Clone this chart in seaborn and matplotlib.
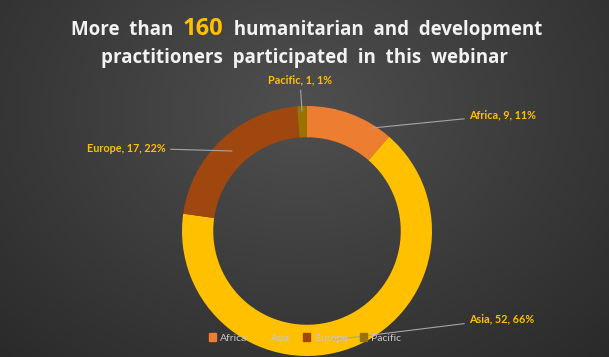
import numpy as np
import matplotlib
matplotlib.use("Agg")
import matplotlib.pyplot as plt
import seaborn as sns

# data
regions = ["Africa", "Asia", "Europe", "Pacific"]
counts = [9, 52, 17, 1]
percents = [11, 66, 22, 1]
colors = sns.color_palette(["#ED7D31", "#FFC000", "#A0470F", "#997300"])

sns.set_theme(style="dark")
plt.rcParams['font.family'] = ['Lato', 'DejaVu Sans']

W, H = 609, 357
fig = plt.figure(figsize=(W / 100, H / 100), dpi=100)
fig.patch.set_facecolor("#333333")

# radial gradient background
bg = fig.add_axes([0, 0, 1, 1], zorder=0)
yy, xx = np.mgrid[0:H, 0:W]
d = np.sqrt(((xx - 300) / 420) ** 2 + ((yy - 110) / 330) ** 2)
shade = np.clip(0.31 - 0.14 * d, 0.14, 0.31)
bg.imshow(np.dstack([shade] * 3), aspect="auto", extent=[0, W, H, 0])
bg.set_axis_off()

# donut, centre (307, 231) px, radius 125 px
cx, cy, R = 307, 231, 125
ax = fig.add_axes([(cx - R) / W, (H - cy - R) / H, 2 * R / W, 2 * R / H], zorder=1)
wedges, _ = ax.pie(counts, colors=colors, startangle=90, counterclock=False,
                   radius=1.0, wedgeprops=dict(width=0.25, linewidth=0))
ax.set_xlim(-1, 1)
ax.set_ylim(-1, 1)
ax.set_aspect("equal")
ax.set_axis_off()

def px(x, y):
    return ((x - cx) / R, (cy - y) / R)

gold = "#FFC000"
label_pos = {
    "Africa": (px(469, 115), px(372, 128), "left"),
    "Asia": (px(469, 319), px(332, 340), "left"),
    "Europe": (px(166, 148), px(232, 151), "right"),
    "Pacific": (px(300, 80), px(302, 111), "center"),
}
for reg, cnt, pct in zip(regions, counts, percents):
    tpos, apos, ha = label_pos[reg]
    ax.annotate(f"{reg}, {cnt}, {pct}%", xy=apos, xytext=tpos,
                ha=ha, va="center", fontsize=7.8, color=gold, fontweight="bold",
                annotation_clip=False,
                arrowprops=dict(arrowstyle="-", color="#A6A6A6", lw=0.8,
                                shrinkA=1, shrinkB=0))

# legend, drawn on top of the ring
handles = [plt.Rectangle((0, 0), 1, 1, color=c) for c in colors]
leg = ax.legend(handles, regions, loc="center", bbox_to_anchor=(305 / W, 1 - 338 / H),
                bbox_transform=fig.transFigure,
                ncol=4, frameon=False, fontsize=7.5, labelcolor="#C8C8C8",
                handlelength=0.7, handleheight=0.7, handletextpad=0.4, columnspacing=1.2)
leg.set_zorder(5)

# title with larger gold "160"
title_kw = dict(color="#F2F2F2", fontweight="bold", fontsize=13.5, va="baseline",
                family=["Open Sans", "DejaVu Sans"])
parts = [("More  than  ", title_kw),
         ("160", dict(title_kw, color=gold, fontsize=17)),
         ("  humanitarian  and  development", title_kw)]
fig.canvas.draw()
renderer = fig.canvas.get_renderer()
texts = []
for s, kw in parts:
    t = fig.text(0, 1 - 35 / H, s, **kw)
    texts.append(t)
widths = [t.get_window_extent(renderer).width for t in texts]
x0 = (W - sum(widths)) / 2 + 2
for t, w in zip(texts, widths):
    t.set_x(x0 / W)
    x0 += w
fig.text(0.5, 1 - 63 / H, "practitioners  participated  in  this  webinar",
         ha="center", **title_kw)

fig.savefig("out.png", dpi=100, facecolor=fig.get_facecolor())
